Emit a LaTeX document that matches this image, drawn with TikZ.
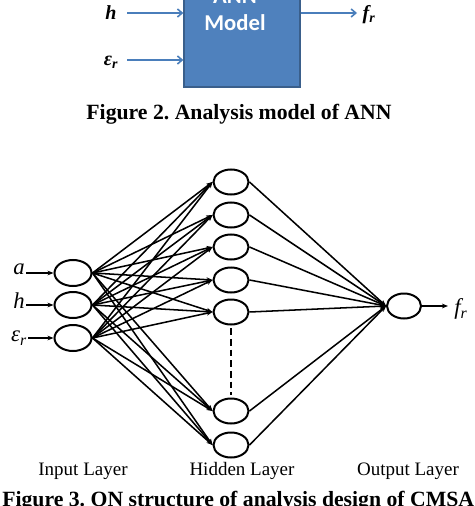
\documentclass[tikz,border=0pt]{standalone}
\usepackage{fontspec}
\setmainfont{Liberation Serif}[
  UprightFont={Liberation Serif},
  BoldFont={Liberation Serif Bold},
  ItalicFont={Liberation Serif Italic},
  BoldItalicFont={Liberation Serif Bold Italic}]
\newfontfamily\timesit{Liberation Serif Italic}
\newfontfamily\timesbi{Liberation Serif Bold Italic}
\newfontfamily\calib{Carlito}
\usetikzlibrary{shapes.geometric,arrows.meta}
\definecolor{boxblue}{RGB}{79,129,189}
\definecolor{boxedge}{RGB}{58,95,139}
\definecolor{arrblue}{RGB}{74,126,187}
\frenchspacing
\tikzset{
  blueflow/.style={draw=arrblue, line width=1.2pt, -{Straight Barb[length=3.5pt,width=6pt]}},
  neuronin/.style={draw, ellipse, line width=1.5pt, minimum width=27.75pt, minimum height=19.5pt, inner sep=0pt},
  neuronh/.style={draw, ellipse, line width=1.5pt, minimum width=26.25pt, minimum height=18.75pt, inner sep=0pt},
  conn/.style={line width=1.15pt, -{Stealth[length=4.5pt,width=3.5pt]}},
  toplab/.style={font=\timesbi\fontsize{15}{15}\selectfont, inner sep=1pt},
  netlab/.style={font=\timesit\fontsize{17}{17}\selectfont, inner sep=1pt},
  layerlab/.style={font=\fontsize{14.25}{15}\selectfont, anchor=base, inner sep=0pt},
  caption/.style={font=\bfseries\fontsize{16.3}{17}\selectfont, inner sep=0pt},
  modeltext/.style={font=\calib\bfseries\fontsize{17}{17}\selectfont, text=white, anchor=base, inner sep=0pt}
}
\begin{document}
\begin{tikzpicture}[x=0.75pt,y=-0.75pt]
\useasboundingbox (0,0) rectangle (474,506);
\clip (0,0) rectangle (474,506);
\fill[white] (0,0) rectangle (474,506);

% ---------- Figure 2 ----------
\node[draw=boxedge, fill=boxblue, line width=1pt, minimum width=87pt, minimum height=80.25pt, inner sep=0pt] (model) at (242,33.5) {};
\node[modeltext] (ann) at (235,4) {ANN};
\node[modeltext] (mdl) at (235,31) {Model};
\node[toplab] (th) at (111,13) {h};
\node[toplab] (te) at (111,62) {ε\textsubscript{r}};
\node[toplab] (tf) at (369,15) {f\textsubscript{r}};
\coordinate (hin) at (127,13);
\coordinate (ein) at (127,60);
\coordinate (fout) at (357,13);
\draw[blueflow] (hin) -- (model.west |- hin);
\draw[blueflow] (ein) -- (model.west |- ein);
\draw[blueflow] (model.east |- fout) -- (fout);
\node[caption, anchor=base] (cap2) at (239,120) {Figure 2. Analysis model of ANN};

% ---------- Figure 3 ----------
\node[neuronin] (in1) at (73,273) {};
\node[neuronin] (in2) at (73,305) {};
\node[neuronin] (in3) at (73,338) {};
\node[neuronh] (hd1) at (231,182) {};
\node[neuronh] (hd2) at (231,215) {};
\node[neuronh] (hd3) at (231,247) {};
\node[neuronh] (hd4) at (231,280) {};
\node[neuronh] (hd5) at (231,312) {};
\node[neuronh] (hd6) at (231,411) {};
\node[neuronh] (hd7) at (231,445) {};
\node[neuronh, minimum width=25.5pt] (out) at (404,306) {};

\node[netlab] (la) at (19,269) {a};
\node[netlab] (lh) at (19,301) {h};
\node[netlab] (le) at (19,338) {ε\textsubscript{r}};
\node[netlab] (lf) at (461,309) {f\textsubscript{r}};
\coordinate (fend) at (448,306);

\draw[conn] (la.east |- in1.west) -- (in1.west);
\draw[conn] (lh.east |- in2.west) -- (in2.west);
\draw[conn] (le.east |- in3.west) -- (in3.west);
\draw[conn] (out.east) -- (fend);

\foreach \i in {1,2,3}
  \foreach \j in {1,...,7}
    \draw[conn] (in\i.east) -- (hd\j.west);
\foreach \j in {1,...,7}
  \draw[conn] (hd\j.east) -- (out.west);

\draw[line width=1.6pt, dash pattern=on 5pt off 3pt] ([yshift=-2pt]hd5.south) -- ([yshift=2pt]hd6.north);

\node[layerlab] (lin) at (83,475) {Input Layer};
\node[layerlab] (lhid) at (242,475) {Hidden Layer};
\node[layerlab] (lout) at (408,475) {Output Layer};

\node[caption, anchor=base west] (cap3) at (2,506) {Figure 3. QN structure of analysis design of CMSA};
\end{tikzpicture}
\end{document}
